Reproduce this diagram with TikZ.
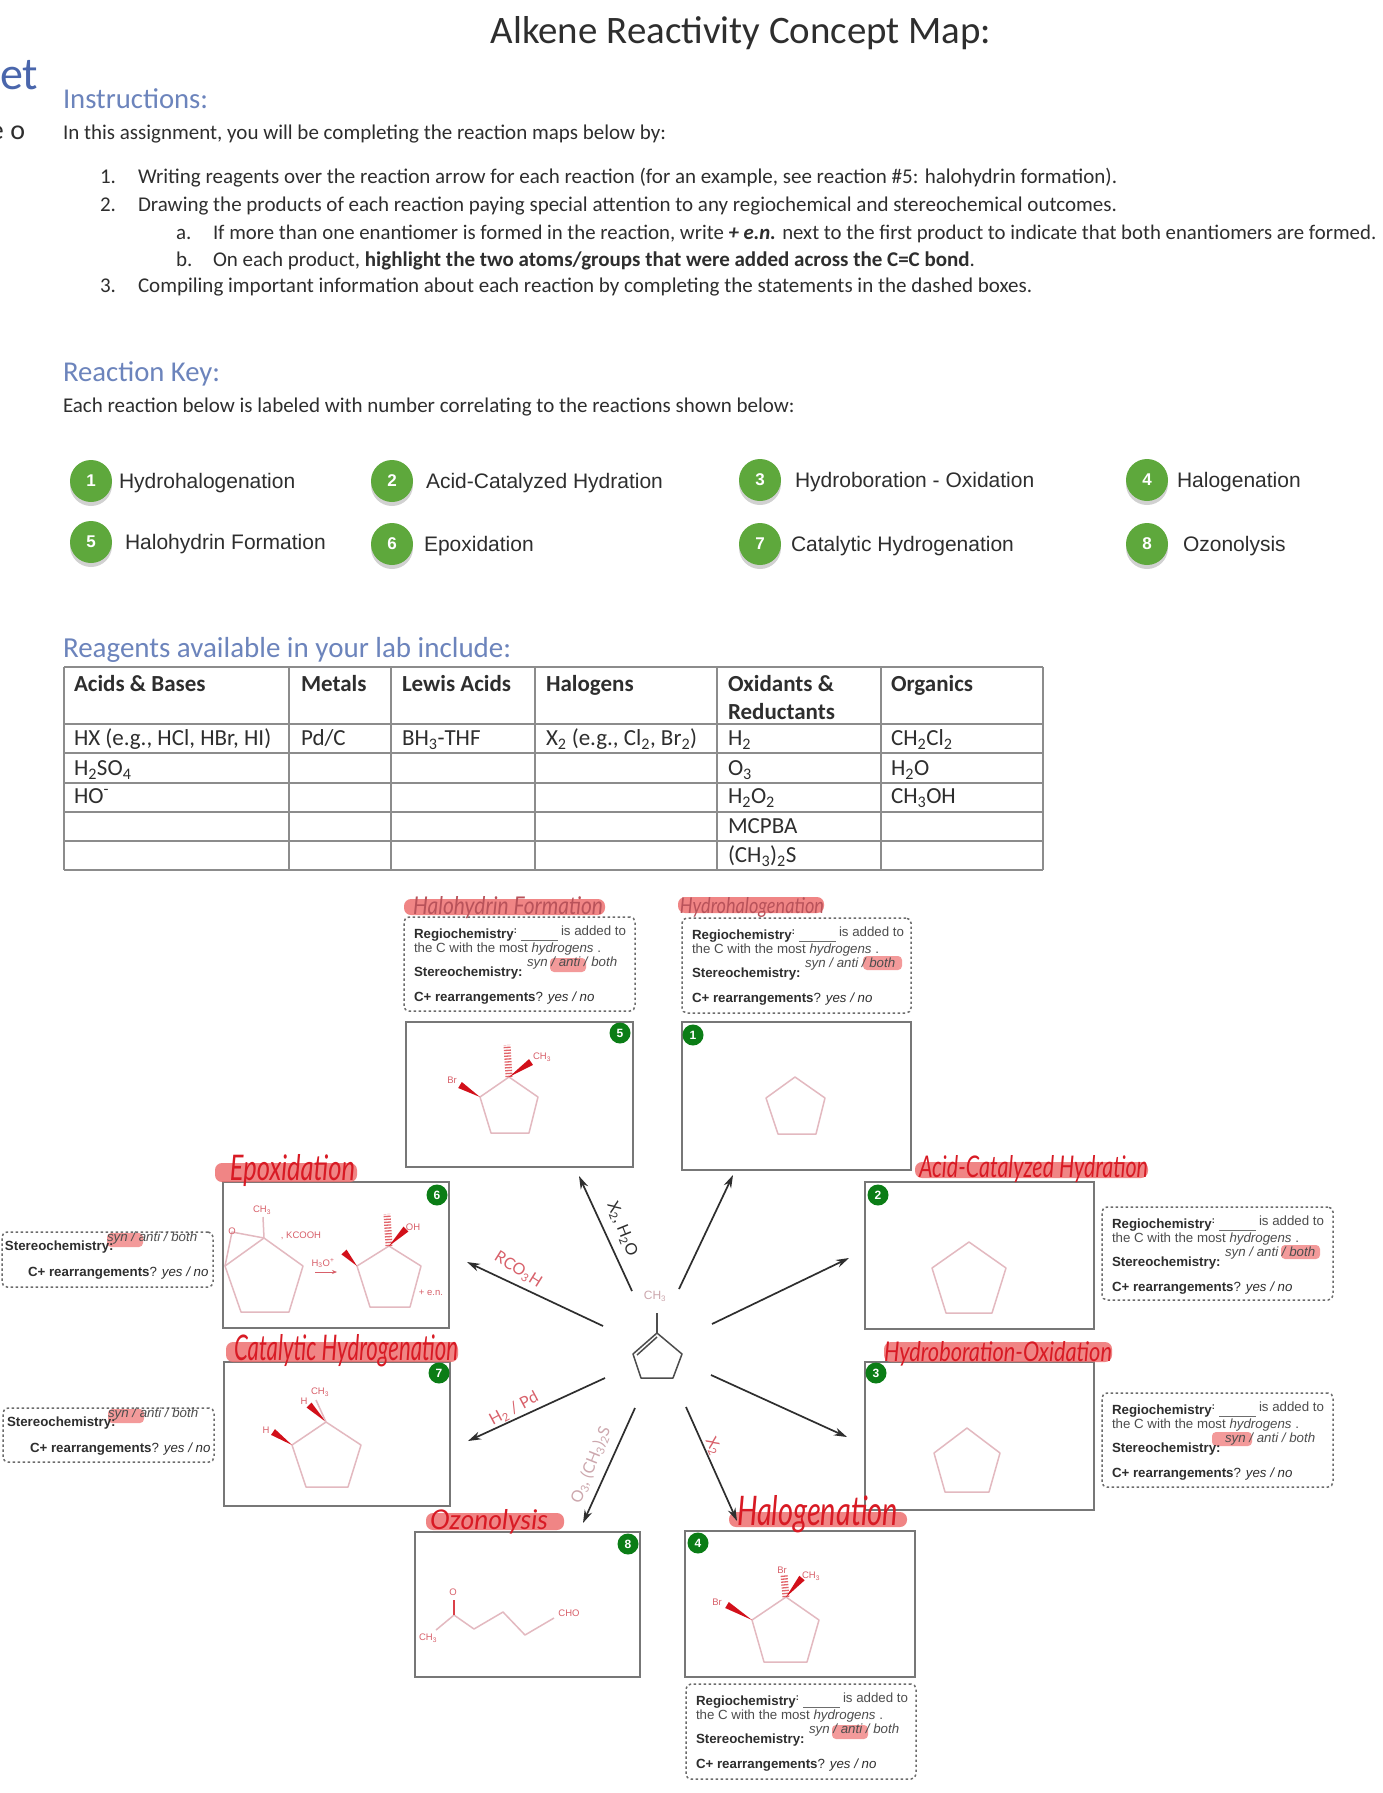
\documentclass[tikz,border=0pt]{standalone}
\usepackage{fontspec}
\setmainfont{Carlito}
\newfontfamily\arialf{Liberation Sans}
\newfontfamily\handf{Lato}
\usetikzlibrary{calc,arrows.meta}
\definecolor{headblue}{HTML}{6C84BC}
\definecolor{titlblue}{HTML}{4A66AC}
\definecolor{inktext}{HTML}{2E2E2E}
\definecolor{gridgray}{HTML}{8C8C8C}
\definecolor{boxgray}{HTML}{777777}
\definecolor{keygreen}{HTML}{5EA83C}
\definecolor{badgegreen}{HTML}{0B7D16}
\definecolor{ringpink}{HTML}{E3B9C0}
\definecolor{wedgered}{HTML}{D2101A}
\definecolor{penred}{HTML}{D81A24}
\definecolor{softred}{HTML}{D8606A}
\definecolor{hlsalmon}{HTML}{EE7070}
\newcounter{tn}
\newcommand\sbs[1]{\textsubscript{#1}}
\newcommand\Tx[4][]{\stepcounter{tn}\node[txt,#1] (n\arabic{tn}) at (#2,#3) {#4};}
\newcommand\Bx[5]{\node[prodbox,minimum width={(#4-#2)*1pt},minimum height={(#5-#3)*1pt}] (#1) at (#2,#3) {};}
\newcommand\Badge[3]{\stepcounter{tn}\node[badge] (n\arabic{tn}) at (#1,#2) {#3};}
\newcommand\KeyItem[5]{%
  \fill[black,opacity=.18] (#1,#2+4) circle (21);
  \stepcounter{tn}\node[keydot] (n\arabic{tn}) at (#1,#2) {#3};
  \Tx[keyt]{#4}{#2}{#5}}
\newcommand\HwT[9]{%
  \fill[hlsalmon,opacity=.85,rounded corners=7pt] (#1,#2) rectangle (#3,#4);
  \stepcounter{tn}\node[inner sep=0,outer sep=0,text=#8] (n\arabic{tn}) at ({(#5+#6)/2},{#4-#7/2+2}) {\resizebox{\dimexpr #6pt-#5pt\relax}{#7pt}{\handf\itshape #9}};}
\newcommand\Hl[4]{\fill[hlsalmon,opacity=.7,rounded corners=4pt] (#1,#2) rectangle (#3,#4);}
\newcommand\Full[8]{%
  \Hl{#6}{#3+#8}{#7}{#3+#8+14}
  \node[dashbox,minimum width={(#4-#2)*1pt},minimum height={(#5-#3)*1pt}] (#1) at (#2,#3) {};
  \Tx[dbold]{#2+10}{#3+18}{Regiochemistry\textsuperscript{:}}
  \draw[inktext!70,line width=.7pt] (#2+117,#3+23) -- (#2+154,#3+23);
  \Tx[dreg]{#2+157}{#3+15}{is added to}
  \Tx[dreg]{#2+10}{#3+32}{the C with the most \textit{hydrogens} .}
  \Tx[dreg]{#2+123}{#3+46}{\textit{syn / anti / both}}
  \Tx[dbold]{#2+10}{#3+56}{Stereochemistry:}
  \Tx[dbold]{#2+10}{#3+81}{C+ rearrangements\textmd{? \textit{yes / no}}}}
\newcommand\Short[8]{%
  \Hl{#6}{#3+1}{#6+36}{#3+15}
  \node[dashbox,minimum width={(#4-#2)*1pt},minimum height={(#5-#3)*1pt}] (#1) at (#2,#3) {};
  \Tx[dbold]{#7}{#3+15}{Stereochemistry:}
  \Tx[dreg]{#6}{#3+6}{\textit{syn / anti / both}}
  \Tx[dbold]{#8}{#3+41}{C+ rearrangements\textmd{? \textit{yes / no}}}}
\newcommand\Ring[5]{\draw[ringline] #1 -- #2 -- #3 -- #4 -- #5 -- cycle;}
\newcommand\Wdg[3][3.5]{\fill[wedgered] (#2) -- ($(#3)!#1pt!90:(#2)$) -- ($(#3)!#1pt!-90:(#2)$) -- cycle;}
\newcommand\Hsh[2]{\draw[hashline] (#1) -- (#2);}
\tikzset{
  x=1pt,y=-1pt,
  txt/.style={anchor=mid west,inner sep=0,outer sep=0,yshift=-4.5pt,text=inktext,font=\fontsize{21}{24}\selectfont},
  head/.style={yshift=-2pt,text=headblue,font=\fontsize{28.7}{31}\selectfont},
  tabhead/.style={yshift=-1.5pt,font=\fontsize{23}{26}\selectfont\bfseries},
  tabcell/.style={yshift=1pt,font=\fontsize{23}{26}\selectfont},
  keyt/.style={yshift=-1pt,font=\arialf\fontsize{21}{24}\selectfont},
  keydot/.style={circle,fill=keygreen,minimum size=42pt,inner sep=0,text=white,font=\arialf\bfseries\fontsize{17}{20}\selectfont},
  badge/.style={circle,fill=badgegreen,minimum size=21pt,inner sep=0,text=white,font=\arialf\bfseries\fontsize{12}{14}\selectfont},
  prodbox/.style={draw=boxgray,line width=1.8pt,anchor=north west,inner sep=0,outer sep=0,fill=none},
  dashbox/.style={draw=boxgray!90!black,line width=1.5pt,dash pattern=on 2.4pt off 2.6pt,rounded corners=5pt,anchor=north west,inner sep=0,outer sep=0},
  dbold/.style={yshift=3pt,font=\arialf\bfseries\fontsize{13.3}{15}\selectfont},
  dreg/.style={yshift=3pt,text=inktext!85,font=\arialf\fontsize{13.3}{15}\selectfont},
  rxn/.style={draw=inktext,line width=1.7pt,-{Stealth[length=13pt,width=8pt]}},
  ringline/.style={draw=ringpink,line width=1.5pt,line join=round},
  hashline/.style={draw=wedgered!65,line width=7pt,dash pattern=on 1.3pt off 1.6pt},
  chem/.style={anchor=center,yshift=4.5pt,text=softred,font=\arialf\fontsize{9.5}{11}\selectfont},
  handlab/.style={anchor=center,yshift=4.5pt,text=softred,font=\handf\fontsize{16}{18}\selectfont},
}
\begin{document}
\begin{tikzpicture}
\useasboundingbox (0,0) rectangle (1382,1793);
\fill[white] (0,0) rectangle (1382,1793);
% page text
\Tx[yshift=-5.5pt,font=\fontsize{38.9}{42}\selectfont,anchor=mid]{741}{31}{Alkene Reactivity Concept Map:}
\Tx[yshift=-7.5pt,text=titlblue,font=\fontsize{46}{50}\selectfont]{0}{75}{et}
\Tx[font=\fontsize{28}{30}\selectfont]{-10}{133}{e o}
\Tx[head]{63}{100}{Instructions:}
\Tx{63}{133}{In this assignment, you will be completing the reaction maps below by:}
\Tx{100}{177}{1.}\Tx{138}{177}{Writing reagents over the reaction arrow for each reaction (for an example, see reaction \#5: halohydrin formation).}
\Tx{100}{205}{2.}\Tx{138}{205}{Drawing the products of each reaction paying special attention to any regiochemical and stereochemical outcomes.}
\Tx{176}{233}{a.}\Tx[font=\fontsize{20.8}{24}\selectfont]{213}{233}{If more than one enantiomer is formed in the reaction, write \textbf{\textit{+ e.n.}} next to the first product to indicate that both enantiomers are formed.}
\Tx{176}{260}{b.}\Tx{213}{260}{On each product, \textbf{highlight the two atoms/groups that were added across the C=C bond}.}
\Tx{100}{286}{3.}\Tx{138}{286}{Compiling important information about each reaction by completing the statements in the dashed boxes.}
\Tx[head]{63}{373}{Reaction Key:}
\Tx{63}{406}{Each reaction below is labeled with number correlating to the reactions shown below:}
% key
\KeyItem{91}{481}{1}{119}{Hydrohalogenation}
\KeyItem{392}{481}{2}{426}{Acid-Catalyzed Hydration}
\KeyItem{760}{480}{3}{795}{Hydroboration - Oxidation}
\KeyItem{1147}{480}{4}{1177}{Halogenation}
\KeyItem{91}{542}{5}{125}{Halohydrin Formation}
\KeyItem{392}{544}{6}{424}{Epoxidation}
\KeyItem{760}{544}{7}{791}{Catalytic Hydrogenation}
\KeyItem{1147}{544}{8}{1183}{Ozonolysis}
% reagents table
\Tx[head,yshift=-1.5pt,font=\fontsize{29}{32}\selectfont]{63}{647}{Reagents available in your lab include:}
\foreach \xx in {64,289,391,535,717,881,1043} \draw[gridgray,line width=1.6pt] (\xx,667) -- (\xx,870);
\foreach \yy in {667,724,753,783,812,841,870} \draw[gridgray,line width=1.6pt] (64,\yy) -- (1043,\yy);
\Tx[tabhead]{74}{683}{Acids \& Bases}\Tx[tabhead]{301}{683}{Metals}\Tx[tabhead]{402}{683}{Lewis Acids}\Tx[tabhead]{546}{683}{Halogens}\Tx[tabhead]{728}{683}{Oxidants \&}\Tx[tabhead]{728}{711}{Reductants}\Tx[tabhead]{891}{683}{Organics}
\Tx[tabcell]{74}{740}{HX (e.g., HCl, HBr, HI)}\Tx[tabcell]{301}{740}{Pd/C}\Tx[tabcell]{402}{740}{BH\sbs{3}-THF}\Tx[tabcell]{546}{740}{X\sbs{2} (e.g., Cl\sbs{2}, Br\sbs{2})}\Tx[tabcell]{728}{740}{H\sbs{2}}\Tx[tabcell]{891}{740}{CH\sbs{2}Cl\sbs{2}}
\Tx[tabcell]{74}{770}{H\sbs{2}SO\sbs{4}}\Tx[tabcell]{728}{770}{O\sbs{3}}\Tx[tabcell]{891}{770}{H\sbs{2}O}
\Tx[tabcell]{74}{798}{HO\textsuperscript{-}}\Tx[tabcell]{728}{798}{H\sbs{2}O\sbs{2}}\Tx[tabcell]{891}{798}{CH\sbs{3}OH}
\Tx[tabcell]{728}{828}{MCPBA}
\Tx[tabcell]{728}{857}{(CH\sbs{3})\sbs{2}S}
% product boxes
\Bx{b5}{406}{1022}{633}{1167}
\Bx{b1}{682}{1022}{911}{1170}
\Bx{b6}{223}{1182}{449}{1328}
\Bx{b7}{224}{1362}{450}{1506}
\Bx{b2}{865}{1182}{1094}{1329}
\Bx{b3}{865}{1362}{1094}{1510}
\Bx{b8}{415}{1532}{640}{1677}
\Bx{b4}{685}{1531}{915}{1677}
\Badge{620}{1033}{5}\Badge{693}{1035}{1}\Badge{437}{1195}{6}\Badge{878}{1195}{2}\Badge{439}{1373}{7}\Badge{876}{1373}{3}\Badge{628}{1544}{8}\Badge{698}{1543}{4}
% hand-written titles
\HwT{404}{899}{605}{915}{413}{603}{18}{softred!85!black}{Halohydrin Formation}
\HwT{678}{897}{824}{913}{680}{824}{16}{softred!85!black}{Hydrohalogenation}
\HwT{215}{1163}{357}{1182}{230}{355}{26}{penred}{Epoxidation}
\HwT{915}{1162}{1148}{1178}{919}{1148}{22}{penred}{Acid-Catalyzed Hydration}
\HwT{226}{1342}{458}{1362}{234}{458}{26}{penred}{Catalytic Hydrogenation}
\HwT{884}{1342}{1112}{1362}{884}{1112}{20}{penred}{Hydroboration-Oxidation}
\HwT{426}{1513}{564}{1530}{430}{548}{20}{penred}{Ozonolysis}
\HwT{729}{1512}{907}{1527}{737}{898}{30}{penred}{Halogenation}
% dashed information boxes
\Full{d5}{404}{917}{635}{1011}{550}{586}{41}
\Full{d1}{682}{918}{911}{1013}{863}{902}{38}
\Full{d2}{1102}{1207}{1333}{1300}{1281}{1320}{38}
\Full{d3}{1102}{1393}{1333}{1487}{1212}{1252}{39}
\Full{d4}{686}{1684}{916}{1779}{832}{868}{41}
\Short{d6}{2}{1232}{213}{1287}{107}{5}{28}
\Short{d7}{3}{1408}{214}{1462}{108}{7}{30}
% central alkene
\coordinate (ca) at (657,1333);\coordinate (cb) at (682,1354);\coordinate (cc) at (673,1378);\coordinate (cd) at (641,1378);\coordinate (ce) at (633,1354);\coordinate (cm) at (657,1313);
\draw[inktext!85,line width=1.5pt,line join=round] (ca) -- (cb) -- (cc) -- (cd) -- (ce) -- cycle;
\draw[inktext!85,line width=1.5pt] (ca) -- (cm);
\draw[inktext!85,line width=1.5pt] ($(ca)+(0,4)$) -- ($(ce)+(4,1)$);
\Tx[chem,text=ringpink!90!black,font=\arialf\fontsize{12}{13}\selectfont]{655}{1296}{CH\sbs{3}}
% arrows
\coordinate (t5) at (632,1291);\coordinate (h5) at (579,1176);
\coordinate (t1) at (679,1289);\coordinate (h1) at (733,1175);
\coordinate (t2) at (712,1324);\coordinate (h2) at (849,1258);
\coordinate (t3) at (711,1375);\coordinate (h3) at (847,1437);
\coordinate (t4) at (686,1407);\coordinate (h4) at (737,1521);
\coordinate (t8) at (635,1408);\coordinate (h8) at (583,1523);
\coordinate (t7) at (605,1378);\coordinate (h7) at (468,1441);
\coordinate (t6) at (603,1326);\coordinate (h6) at (467,1262);
\foreach \k in {1,...,8} \draw[rxn] (t\k) -- (h\k);
% reagents on arrows
\Tx[handlab,text=inktext,rotate=-68]{622}{1229}{X\sbs{2}, H\sbs{2}O}
\Tx[handlab,rotate=-32]{518}{1270}{RCO\sbs{3}H}
\Tx[handlab,rotate=28]{514}{1409}{H\sbs{2} / Pd}
\Tx[handlab,text=ringpink!90!black,rotate=68]{591}{1465}{O\sbs{3}, (CH\sbs{3})\sbs{2}S}
\Tx[handlab,rotate=-65]{713}{1446}{X\sbs{2}}
% box 5
\Ring{(509,1077)}{(538,1097)}{(529,1133)}{(491,1133)}{(480,1097)}
\Wdg{480,1097}{460,1085}
\Tx[chem]{452}{1080}{Br}
\Hsh{509,1077}{507,1045}
\Wdg{509,1077}{531,1062}
\Tx[chem]{542}{1057}{CH\sbs{3}}
% box 1, 2, 3
\Ring{(795,1077)}{(825,1098)}{(816,1134)}{(778,1134)}{(766,1098)}
\Ring{(969,1242)}{(1006,1268)}{(992,1313)}{(946,1313)}{(932,1268)}
\Ring{(967,1428)}{(1000,1453)}{(989,1492)}{(945,1492)}{(934,1453)}
% box 6
\Ring{(264,1238)}{(303,1266)}{(289,1312)}{(241,1312)}{(225,1266)}
\draw[ringline] (264,1238) -- (263,1217);
\draw[ringline] (264,1238) -- (232,1232) -- (225,1266);
\Tx[chem]{262}{1210}{CH\sbs{3}}
\Tx[chem]{232}{1231}{O}
\Tx[chem]{301}{1236}{, KCOOH}
\Tx[chem]{323}{1263}{H\sbs{3}O\textsuperscript{+}}
\draw[softred,line width=1pt,-{Stealth[length=5pt,width=4pt]}] (315,1272) -- (337,1272);
\Ring{(389,1246)}{(421,1266)}{(410,1307)}{(370,1307)}{(357,1266)}
\Wdg{357,1266}{344,1252}
\Hsh{389,1246}{387,1214}
\Wdg{389,1246}{406,1229}
\Tx[chem]{413}{1227}{OH}
\Tx[chem]{431}{1293}{+ e.n.}
% box 7
\Ring{(326,1422)}{(361,1445)}{(348,1487)}{(306,1487)}{(292,1445)}
\Wdg{292,1445}{273,1432}
\Wdg{326,1422}{309,1405}
\draw[ringline] (326,1422) -- (316,1400);
\Tx[chem]{266}{1430}{H}
\Tx[chem]{304}{1401}{H}
\Tx[chem]{320}{1392}{CH\sbs{3}}
% box 8
\draw[ringline] (436,1630) -- (454,1615) -- (474,1629) -- (503,1612) -- (525,1635) -- (554,1618);
\draw[wedgered!80,line width=2pt] (454,1615) -- (454,1600);
\Tx[chem]{428}{1638}{CH\sbs{3}}
\Tx[chem]{453}{1592}{O}
\Tx[chem]{569}{1613}{CHO}
% box 4
\Ring{(786,1597)}{(819,1620)}{(807,1662)}{(764,1662)}{(752,1620)}
\Wdg{752,1620}{727,1605}
\Hsh{786,1597}{784,1575}
\Wdg{786,1597}{802,1578}
\Tx[chem]{717}{1602}{Br}
\Tx[chem]{782}{1570}{Br}
\Tx[chem]{811}{1576}{CH\sbs{3}}
\end{tikzpicture}
\end{document}
